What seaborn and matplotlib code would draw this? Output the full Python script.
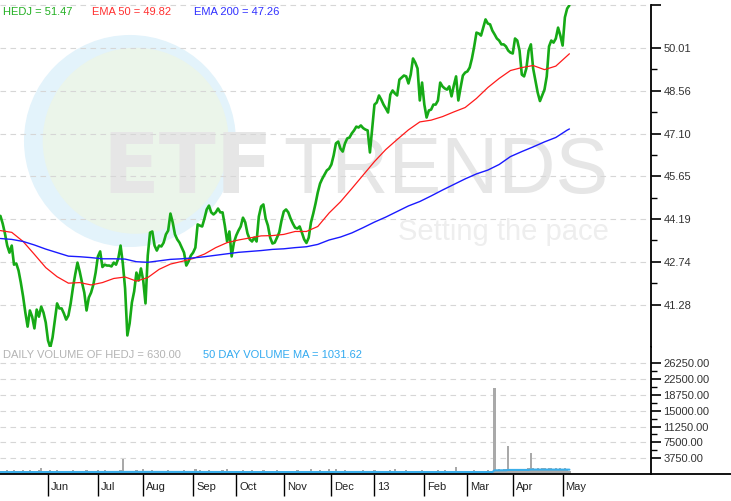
import numpy as np
import pandas as pd
import matplotlib
matplotlib.use("Agg")
import matplotlib.pyplot as plt
import matplotlib.transforms as mtransforms
from matplotlib.patches import Ellipse
from matplotlib.lines import Line2D
import seaborn as sns

# HEDJ daily closes, one per trading day
hedj_close = [
    44.30, 44.04, 43.70, 43.29, 43.05, 43.29, 42.64, 42.68, 42.44, 42.03,
    41.56, 41.01, 40.53, 41.08, 40.87, 40.47, 41.11, 40.87, 41.21, 41.01,
    40.67, 40.06, 39.82, 40.16, 40.74, 41.32, 41.15, 41.15, 40.98, 40.77,
    40.91, 41.32, 41.86, 42.31, 42.71, 42.40, 42.03, 41.69, 41.08, 41.52,
    41.69, 41.96, 42.37, 42.92, 43.09, 42.56, 42.64, 42.61, 42.61, 42.58,
    42.71, 42.64, 42.85, 43.29, 42.68, 41.83, 40.23, 40.64, 41.35, 41.73,
    42.37, 42.10, 42.51, 42.10, 41.32, 42.95, 43.73, 43.77, 43.29, 43.12,
    43.29, 43.26, 43.39, 43.67, 43.80, 44.38, 44.08, 43.67, 43.50, 43.39,
    43.22, 43.05, 42.61, 42.75, 42.95, 43.05, 43.22, 44.01, 43.97, 43.94,
    44.21, 44.52, 44.65, 44.42, 44.35, 44.42, 44.55, 44.42, 44.42, 43.97,
    43.43, 43.77, 42.92, 43.39, 43.63, 43.80, 43.94, 44.24, 44.08, 43.70,
    43.50, 43.43, 43.56, 43.43, 44.28, 44.62, 44.69, 44.21, 43.97, 43.56,
    43.36, 43.39, 43.56, 43.74, 44.14, 44.45, 44.52, 44.42, 44.21, 44.04,
    43.90, 43.87, 43.94, 43.73, 43.50, 43.38, 43.56, 44.08, 44.38, 44.72,
    45.10, 45.40, 45.57, 45.71, 45.85, 45.91, 46.05, 46.36, 46.77, 46.83,
    46.59, 46.49, 46.77, 46.94, 46.97, 47.11, 47.21, 47.34, 47.31, 47.38,
    47.29, 47.24, 47.21, 46.46, 47.28, 48.09, 48.16, 48.40, 48.26, 48.09,
    47.96, 47.82, 48.43, 48.57, 48.47, 48.40, 48.94, 49.01, 49.08, 49.05,
    48.81, 49.11, 49.66, 49.52, 49.32, 48.23, 48.84, 48.09, 47.65, 47.89,
    47.92, 48.09, 48.09, 48.23, 48.84, 48.71, 48.64, 48.60, 48.71, 48.37,
    48.74, 49.05, 48.23, 48.67, 49.08, 49.18, 49.22, 49.35, 49.66, 50.07,
    50.54, 50.51, 50.44, 50.71, 50.99, 50.85, 50.82, 50.61, 50.48, 50.34,
    50.27, 50.14, 50.14, 50.07, 49.93, 49.86, 49.83, 50.34, 50.27, 49.93,
    49.11, 49.05, 49.32, 49.93, 50.14, 49.32, 48.91, 48.50, 48.21, 48.40,
    48.60, 49.05, 50.07, 50.27, 50.20, 50.34, 50.71, 50.44, 50.10, 51.06,
    51.36, 51.47,
]

# moving averages, read every 5th trading day
ema_day = list(range(0, 251, 5)) + [251]
ema50 = [
    43.80, 43.74, 43.43, 42.99, 42.54, 42.23, 42.01, 42.03, 41.95, 42.03,
    42.17, 42.22, 42.08, 42.20, 42.48, 42.66, 42.75, 42.85, 43.00, 43.22,
    43.39, 43.48, 43.55, 43.62, 43.63, 43.67, 43.77, 43.77, 43.94, 44.40,
    44.78, 45.23, 45.69, 46.15, 46.56, 46.90, 47.23, 47.50, 47.56, 47.68,
    47.84, 47.99, 48.30, 48.67, 48.98, 49.25, 49.35, 49.42, 49.28, 49.40,
    49.75, 49.82,
]
ema200 = [
    43.53, 43.50, 43.43, 43.31, 43.17, 43.05, 42.93, 42.91, 42.88, 42.84,
    42.84, 42.83, 42.74, 42.72, 42.77, 42.82, 42.84, 42.87, 42.91, 42.96,
    43.01, 43.06, 43.09, 43.12, 43.16, 43.18, 43.22, 43.25, 43.33, 43.48,
    43.58, 43.72, 43.90, 44.09, 44.26, 44.45, 44.64, 44.79, 44.98, 45.18,
    45.37, 45.56, 45.73, 45.86, 46.05, 46.32, 46.49, 46.65, 46.82, 46.97,
    47.22, 47.26,
]

# daily volume (shares)
volume = [
    820, 760, 690, 900, 540, 710, 880, 650, 770, 600, 940, 720, 580, 830, 690, 760, 610, 870, 1400, 740, 660,
    790, 850, 620, 700, 910, 560, 730, 820, 680, 760, 590, 880, 710, 640, 800, 750, 690, 920, 610, 780, 700,
    660, 840, 730, 590, 870, 720, 650, 810, 700, 770, 620, 890, 3450, 740, 680, 810, 590, 760, 830, 650, 720,
    1300, 690, 780, 610, 850, 700, 740, 560, 820, 690, 770, 880, 630, 710, 800, 590, 750, 680, 900, 720, 640,
    790, 700, 1300, 660, 830, 580, 760, 710, 870, 640, 730, 800, 690, 620, 850, 740, 1250, 680, 770, 600, 720,
    810, 650, 890, 700, 760, 590, 830, 720, 680, 790, 610, 870, 740, 660, 800, 700, 580, 850, 730, 690, 760,
    640, 820, 710, 780, 600, 870, 690, 750, 660, 810, 720, 1200, 640, 790, 700, 860, 610, 750, 680, 1300, 720,
    800, 1250, 660, 740, 590, 850, 710, 780, 630, 820, 690, 760, 600, 880, 720, 650, 790, 700, 840, 610, 760,
    690, 820, 640, 750, 880, 700, 1250, 660, 790, 720, 610, 850, 740, 680, 800, 590, 760, 710, 870, 650, 730,
    800, 690, 760, 620, 880, 710, 650, 830, 740, 600, 790, 720, 1600, 690, 770, 640, 820, 710, 750, 680, 860,
    720, 800, 650, 770, 690, 840, 710, 780, 20400, 1050, 1200, 980, 1150, 1080, 6700, 1120, 1010, 1250, 1090, 1180, 1040,
    1300, 1150, 1420, 4950, 1380, 1250, 1450, 1200, 1330, 1410, 1280, 1460, 1350, 1190, 1400, 1300, 1440, 1260, 1380, 1150, 630,
]

ma_day = [0, 20, 40, 60, 80, 100, 120, 140, 160, 180, 200, 217, 218, 223, 224, 233, 234, 245, 251]
ma_vol = [450, 465, 480, 500, 490, 470, 460, 470, 480, 465, 470, 465, 870, 875, 960, 965, 1050, 1040, 1031.62]

# first trading day of each month, as placed on the chart
month_day = [21, 43, 63, 85, 104, 125, 146, 165, 187, 206, 226, 248]
month_label = ["Jun", "Jul", "Aug", "Sep", "Oct", "Nov", "Dec", "13", "Feb", "Mar", "Apr", "May"]

price_ticks = [41.28, 42.74, 44.19, 45.65, 47.10, 48.56, 50.01]
vol_ticks = [3750, 7500, 11250, 15000, 18750, 22500, 26250]

sns.set_theme(style="white")
plt.rcParams['font.family'] = ['Liberation Sans', 'DejaVu Sans']

GREEN = '#16aa16'
RED = '#ff1a1a'
BLUE = '#1a1aff'
VOLGREY = '#a9a9a9'
MACYAN = '#3aaeea'
GRID = '#d6d6d6'

fig = plt.figure(figsize=(7.31, 5.01), dpi=100)
ax = fig.add_axes([0, 0.3064, 0.8906, 0.6830])
axv = fig.add_axes([0, 0.0539, 0.8906, 0.2525], sharex=ax)

step = price_ticks[1] - price_ticks[0]
p_lo, p_hi = price_ticks[0] - step, price_ticks[-1] + step

# watermark
ax.add_patch(Ellipse((0.1778, 0.7186), 0.290, 0.4232, transform=fig.transFigure,
                     facecolor='#e3f3fb', edgecolor='none', zorder=0.1))
ax.add_patch(Ellipse((0.1856, 0.7190), 0.2544, 0.3713, transform=fig.transFigure,
                     facecolor='#ebf5ea', edgecolor='none', zorder=0.2))
ax.text(0.1395, 0.6148, "ETF", transform=fig.transFigure, fontsize=60, fontweight='bold',
        family='DejaVu Sans', color='#e6e6e6', ha='left', va='baseline', zorder=0.3)
ax.text(0.3871, 0.6148, "TRENDS", transform=fig.transFigure, fontsize=57, color='#e6e6e6',
        ha='left', va='baseline', zorder=0.3)
ax.text(0.5445, 0.5210, "Setting the pace", transform=fig.transFigure, fontsize=21,
        color='#eeeeee', ha='left', va='baseline', zorder=0.3)

# price panel
hedj_day = list(range(len(hedj_close)))
sns.lineplot(x=hedj_day, y=hedj_close, ax=ax, color=GREEN, linewidth=1.9,
             estimator=None, sort=False, zorder=3)
sns.lineplot(x=ema_day, y=ema50, ax=ax, color=RED, linewidth=0.9,
             estimator=None, sort=False, zorder=4)
sns.lineplot(x=ema_day, y=ema200, ax=ax, color=BLUE, linewidth=1.0,
             estimator=None, sort=False, zorder=4)

ax.set_ylim(p_lo, p_hi)
ax.set_xlim(-0.18, 287.0)
ax.set_facecolor('none')
for v in price_ticks + [p_hi]:
    ax.axhline(v, color=GRID, linewidth=0.8, linestyle=(0, (5, 4)), zorder=1, clip_on=False)

ax.yaxis.tick_right()
ax.set_yticks(price_ticks + [p_hi])
ax.set_yticklabels([f"{v:.2f}" for v in price_ticks] + [""])
ax.set_yticks([(a + b) / 2 for a, b in zip(price_ticks[:-1], price_ticks[1:])], minor=True)
ax.tick_params(axis='y', which='major', right=True, left=False, labelright=True, labelleft=False,
               length=7.5, width=1.2, color='black', pad=1.5, labelsize=8, labelcolor='#333333')
ax.tick_params(axis='y', which='minor', right=True, left=False, length=4.5, width=1.0, color='black')
ax.tick_params(axis='x', which='both', bottom=False, labelbottom=False)
for s in ['left', 'top', 'bottom']:
    ax.spines[s].set_visible(False)
ax.spines['right'].set_color('black')
ax.spines['right'].set_linewidth(1.3)
ax.set_xlabel('')
ax.set_ylabel('')

# legend line at top
fig.text(0.0041, 0.976, "HEDJ = 51.47", color='#22b022', fontsize=8, va='center')
fig.text(0.1255, 0.976, "EMA 50 = 49.82", color='#ff3030', fontsize=8, va='center')
fig.text(0.2660, 0.976, "EMA 200 = 47.26", color='#3030ff', fontsize=8, va='center')

# volume panel
vol_day = list(range(len(volume)))
sns.barplot(x=vol_day, y=volume, ax=axv, native_scale=True, color=VOLGREY, width=1.0,
            errorbar=None, saturation=1, linewidth=0, zorder=2)
sns.lineplot(x=ma_day, y=ma_vol, ax=axv, color=MACYAN, linewidth=1.5,
             estimator=None, sort=False, zorder=3)
axv.set_ylim(0, 30000)
axv.set_xlim(-0.18, 287.0)
for v in vol_ticks:
    axv.axhline(v, color=GRID, linewidth=0.8, linestyle=(0, (5, 4)), zorder=1)

axv.yaxis.tick_right()
axv.set_yticks(vol_ticks)
axv.set_yticklabels([f"{v:.2f}" for v in vol_ticks])
axv.set_yticks([(a + b) / 2 for a, b in zip(vol_ticks[:-1], vol_ticks[1:])], minor=True)
axv.tick_params(axis='y', which='major', right=True, left=False, labelright=True, labelleft=False,
                length=7.5, width=1.2, color='black', pad=1.5, labelsize=8, labelcolor='#333333')
axv.tick_params(axis='y', which='minor', right=True, left=False, length=4.5, width=1.0, color='black')
axv.set_xticks(month_day)
axv.tick_params(axis='x', which='major', bottom=True, labelbottom=False, direction='out',
                length=15.5, width=1.0, color='black')
axv.tick_params(axis='x', which='minor', bottom=False)
for s in ['left', 'top', 'bottom']:
    axv.spines[s].set_visible(False)
axv.spines['right'].set_color('black')
axv.spines['right'].set_linewidth(1.3)
axv.set_xlabel('')
axv.set_ylabel('')

trans = mtransforms.blended_transform_factory(axv.transData, axv.transAxes)
trans = mtransforms.offset_copy(trans, fig=fig, x=3, y=0, units='dots')
for d, lab in zip(month_day, month_label):
    axv.text(d, -0.103, lab, transform=trans, ha='left', va='center', fontsize=8,
             color='#222222', clip_on=False)

fig.add_artist(Line2D([0, 1], [0.0539, 0.0539], transform=fig.transFigure,
                      color='black', linewidth=1.3))

fig.text(0.0041, 0.2914, "DAILY VOLUME OF HEDJ = 630.00", color='#b4b4b4', fontsize=8, va='center')
fig.text(0.2777, 0.2914, "50 DAY VOLUME MA = 1031.62", color='#33aaf0', fontsize=8, va='center')

fig.savefig("out.png", dpi=100)
